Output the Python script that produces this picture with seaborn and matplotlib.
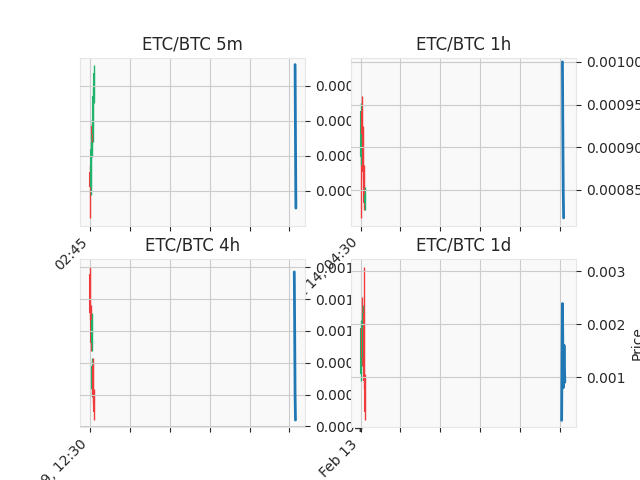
import matplotlib
matplotlib.use("Agg")
import matplotlib.pyplot as plt
import seaborn as sns
import numpy as np

sns.set_style("whitegrid", {"axes.facecolor": "#f9f9f9", "axes.edgecolor": "#e6e6e6",
                            "xtick.bottom": True, "ytick.right": True, "grid.color": "#cccccc"})

titles = ["ETC/BTC 5m", "ETC/BTC 1h", "ETC/BTC 4h", "ETC/BTC 1d"]
first_labels = ["02:45", "Oct 14, 04:30", "Oct 19, 12:30", "Feb 13"]

# candle positions (in tick units), open, close, high, low (normalized 0..1 of panel range)
candle_x = [0.00, 0.02, 0.04, 0.06, 0.08, 0.10]
c_open = [[0.30, 0.20, 0.45, 0.60, 0.55, 0.80],
          [0.50, 0.40, 0.70, 0.55, 0.30, 0.10],
          [0.95, 0.70, 0.50, 0.20, 0.35, 0.15],
          [0.30, 0.45, 0.60, 0.40, 0.70, 0.25]]
c_close = [[0.20, 0.45, 0.60, 0.55, 0.80, 0.95],
           [0.40, 0.70, 0.55, 0.30, 0.10, 0.15],
           [0.70, 0.50, 0.65, 0.35, 0.15, 0.05],
           [0.45, 0.60, 0.40, 0.70, 0.25, 0.05]]
c_high = [[0.35, 0.50, 0.65, 0.62, 0.85, 1.00],
          [0.55, 0.75, 0.80, 0.60, 0.35, 0.20],
          [1.00, 0.75, 0.70, 0.40, 0.40, 0.20],
          [0.50, 0.65, 0.80, 0.75, 1.00, 0.30]]
c_low = [[0.00, 0.15, 0.40, 0.50, 0.50, 0.75],
         [0.00, 0.35, 0.50, 0.25, 0.05, 0.05],
         [0.65, 0.45, 0.45, 0.15, 0.10, 0.00],
         [0.25, 0.40, 0.35, 0.35, 0.20, 0.00]]

# close line on twin axis: x (tick units), price
line_x = [[5.14, 5.15, 5.16], [5.06, 5.07, 5.08, 5.09], [5.12, 5.13, 5.14, 5.15], [5.04, 5.06, 5.08, 5.10, 5.12]]
line_y = [[0.000836, 0.000815, 0.000795],
          [0.00100, 0.00092, 0.00085, 0.000817],
          [0.00137, 0.00100, 0.00060, 0.00044],
          [0.00018, 0.00239, 0.00080, 0.00160, 0.00090]]
twin_ticks = [[0.00080, 0.00081, 0.00082, 0.00083],
              [0.00085, 0.00090, 0.00095, 0.00100],
              [0.0004, 0.0006, 0.0008, 0.0010, 0.0012, 0.0014],
              [0.001, 0.002, 0.003]]
twin_lims = [(0.00079, 0.000838), (0.000808, 0.001005), (0.000395, 0.00145), (0.00005, 0.00323)]
tick_fmt = ["%.6f", "%.5f", "%.4f", "%.3f"]

fig = plt.figure(figsize=(6.4, 4.8), dpi=100)
for i in range(4):
    ax = fig.add_subplot(2, 2, i + 1)
    for j, x in enumerate(candle_x):
        o, c, h, l = c_open[i][j], c_close[i][j], c_high[i][j], c_low[i][j]
        col = "#1fb36b" if c >= o else "#ef3b3b"
        ax.vlines(x, l, h, color=col, lw=1)
        ax.vlines(x, min(o, c), max(o, c), color=col, lw=1.5)
    ax.set_xlim(-0.25, 5.4)
    ax.set_ylim(-0.05, 1.05)
    ax.set_xticks(range(6))
    ax.set_xticklabels([first_labels[i]] + [""] * 5, rotation=45, ha="right")
    ax.set_yticks([])
    ax.grid(axis="y", visible=False)
    ax.set_title(titles[i])
    tw = ax.twinx()
    sns.lineplot(x=line_x[i], y=line_y[i], ax=tw, color="#1f77b4", lw=2, sort=False)
    tw.set_ylim(*twin_lims[i])
    tw.set_yticks(twin_ticks[i])
    tw.set_yticklabels([tick_fmt[i] % v for v in twin_ticks[i]])
    tw.grid(axis="y", visible=True, color="#cccccc")
    tw.grid(axis="x", visible=False)
    for s in tw.spines.values():
        s.set_visible(False)
    if i == 3:
        tw.set_ylabel("Price")

fig.savefig("out.png", dpi=100)
